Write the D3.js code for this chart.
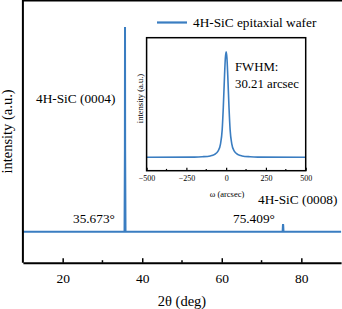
<!DOCTYPE html>
<html>
<head>
<meta charset="utf-8">
<script src="https://cdn.jsdelivr.net/npm/d3@7"></script>
<style>
  body { margin: 0; background: #fff; }
  svg { display: block; font-family: 'Liberation Serif', 'Times New Roman', serif; }
</style>
</head>
<body>
<div id="chart"></div>
<script>
// main XRD 2theta scan (normalised intensity)
const scanTheta = [10, 35.55, 35.64, 35.673, 35.71, 35.8, 75.3, 75.37, 75.409, 75.45, 75.52, 90];
const scanInt = [0, 0, 0.4, 1, 0.4, 0, 0, 0.03, 0.038, 0.03, 0, 0];

// rocking curve inset
const rcOmega = [-500, -200, -150, -100, -75, -50, -35, -25, -18, -10, -5, 0, 5, 10, 18, 25, 35, 50, 75, 100, 150, 200, 500];
const rcInt = [0, 0.002, 0.005, 0.013, 0.025, 0.06, 0.13, 0.26, 0.47, 0.78, 0.94, 1, 0.94, 0.78, 0.47, 0.26, 0.13, 0.06, 0.025, 0.013, 0.005, 0.002, 0];

const mainTicks = [20, 40, 60, 80];
const mainMinor = [30, 50, 70];
const insetTicks = [-500, -250, 0, 250, 500];
const insetMinor = [-375, -125, 125, 375];

const peakLabels = [
  { name: '4H-SiC (0004)', angle: '35.673°' },
  { name: '4H-SiC (0008)', angle: '75.409°' }
];

const blue = '#3a7dc1';
const width = 342, height = 309;

const svg = d3.select('#chart').append('svg')
  .attr('width', width)
  .attr('height', height);

// scales
const x = d3.scaleLinear().domain([10, 90]).range([22.9, 341.1]);
const y = d3.scaleLinear().domain([-0.151, 1.127]).range([262.7, 1]);

const xi = d3.scaleLinear().domain([-500, 500]).range([146.6, 305.7]);
const yi = d3.scaleLinear().domain([-0.127, 1]).range([170.7, 51.7]);

// main curve
const mainData = scanTheta.map((t, i) => [t, scanInt[i]]);
svg.append('path')
  .datum(mainData)
  .attr('fill', 'none')
  .attr('stroke', blue)
  .attr('stroke-width', 2)
  .attr('d', d3.line().x(d => x(d[0])).y(d => y(d[1])));

// frame (top + left), bottom axis
svg.append('line')
  .attr('x1', x(10)).attr('x2', 345)
  .attr('y1', 0.5).attr('y2', 0.5)
  .attr('stroke', '#000').attr('stroke-width', 2);
svg.append('line')
  .attr('x1', x(10)).attr('x2', x(10))
  .attr('y1', 0).attr('y2', y(-0.151))
  .attr('stroke', '#000').attr('stroke-width', 2);

const xAxis = svg.append('g')
  .attr('transform', `translate(0,${y(-0.151)})`)
  .call(d3.axisBottom(x).tickValues(mainTicks).tickSizeInner(-4.5).tickSizeOuter(0).tickPadding(11));
xAxis.select('.domain').attr('stroke-width', 2);
xAxis.selectAll('.tick line').attr('stroke-width', 1.5);
xAxis.selectAll('text').attr('font-size', 13.5).attr('font-family', 'Liberation Serif').attr('fill', '#000');

svg.append('g')
  .attr('transform', `translate(0,${y(-0.151)})`)
  .selectAll('line')
  .data(mainMinor)
  .join('line')
  .attr('x1', d => x(d)).attr('x2', d => x(d))
  .attr('y1', 0).attr('y2', -2.5)
  .attr('stroke', '#000').attr('stroke-width', 1.5);

// axis titles
svg.append('text')
  .attr('x', 182).attr('y', 306)
  .attr('text-anchor', 'middle')
  .attr('font-size', 14.5)
  .text('2θ (deg)');

svg.append('text')
  .attr('transform', 'translate(12,131.5) rotate(-90)')
  .attr('text-anchor', 'middle')
  .attr('font-size', 14.5)
  .text('intensity (a.u.)');

// peak labels
svg.append('text').attr('x', 36).attr('y', 103).attr('font-size', 13.3).text(peakLabels[0].name);
svg.append('text').attr('x', 73).attr('y', 223).attr('font-size', 13.3).text(peakLabels[0].angle);
svg.append('text').attr('x', 258).attr('y', 204).attr('font-size', 13.3).text(peakLabels[1].name);
svg.append('text').attr('x', 233).attr('y', 223).attr('font-size', 13.3).text(peakLabels[1].angle);

// legend
svg.append('line')
  .attr('x1', 157).attr('x2', 187)
  .attr('y1', 22.5).attr('y2', 22.5)
  .attr('stroke', blue).attr('stroke-width', 2.2);
svg.append('text').attr('x', 193).attr('y', 27).attr('font-size', 13.3).text('4H-SiC epitaxial wafer');

// inset
const inset = svg.append('g');
inset.append('rect')
  .attr('x', xi(-500)).attr('y', 37.7)
  .attr('width', xi(500) - xi(-500)).attr('height', 170.7 - 37.7)
  .attr('fill', '#fff');

const rcData = rcOmega.map((w, i) => [w, rcInt[i]]);
inset.append('path')
  .datum(rcData)
  .attr('fill', 'none')
  .attr('stroke', blue)
  .attr('stroke-width', 1.6)
  .attr('d', d3.line().curve(d3.curveMonotoneX).x(d => xi(d[0])).y(d => yi(d[1])));

inset.append('rect')
  .attr('x', xi(-500)).attr('y', 37.7)
  .attr('width', xi(500) - xi(-500)).attr('height', 170.7 - 37.7)
  .attr('fill', 'none')
  .attr('stroke', '#000')
  .attr('stroke-width', 1.5);

const ixAxis = inset.append('g')
  .attr('transform', 'translate(0,170.7)')
  .call(d3.axisBottom(xi).tickValues(insetTicks).tickSizeInner(-3).tickSizeOuter(0).tickPadding(5));
ixAxis.select('.domain').remove();
ixAxis.selectAll('.tick line').attr('stroke-width', 1.2);
ixAxis.selectAll('text').attr('font-size', 8).attr('font-family', 'Liberation Serif').attr('fill', '#000');

inset.append('g')
  .attr('transform', 'translate(0,170.7)')
  .selectAll('line')
  .data(insetMinor)
  .join('line')
  .attr('x1', d => xi(d)).attr('x2', d => xi(d))
  .attr('y1', 0).attr('y2', -1.8)
  .attr('stroke', '#000').attr('stroke-width', 1.2);

inset.append('text')
  .attr('x', 227).attr('y', 197)
  .attr('text-anchor', 'middle')
  .attr('font-size', 8.5)
  .text('ω (arcsec)');

inset.append('text')
  .attr('transform', 'translate(143,98.5) rotate(-90)')
  .attr('text-anchor', 'middle')
  .attr('font-size', 8.5)
  .text('intensity (a.u.)');

inset.append('text').attr('x', 235).attr('y', 71).attr('font-size', 12.8).text('FWHM:');
inset.append('text').attr('x', 235).attr('y', 87.5).attr('font-size', 12.8).text('30.21 arcsec');
</script>
</body>
</html>
